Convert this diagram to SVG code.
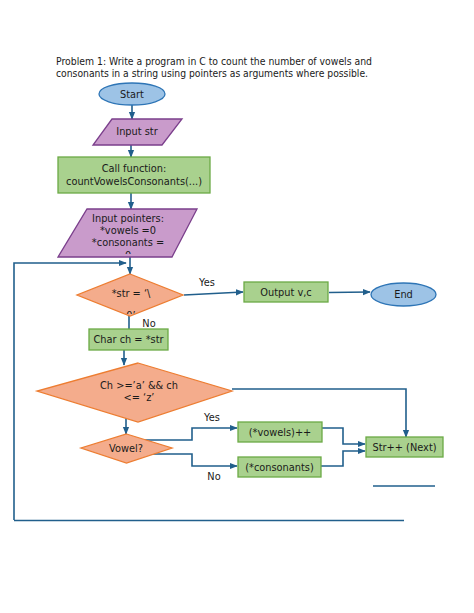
<svg xmlns="http://www.w3.org/2000/svg" width="474" height="613" viewBox="0 0 474 613">
<style>
text{font-family:"DejaVu Sans","Liberation Sans",sans-serif;font-size:9.8px;fill:#1a1a1a;text-anchor:middle}
.title{font-size:10.5px;text-anchor:start}
.term{fill:#9DC3E6;stroke:#2E75B6;stroke-width:1.3}
.io{fill:#C99BCB;stroke:#7B3F8C;stroke-width:1.3}
.proc{fill:#A9D18E;stroke:#6BAA45;stroke-width:1.3}
.dec{fill:#F4AC8C;stroke:#ED7D31;stroke-width:1.3}
.c{fill:none;stroke:#215F8C;stroke-width:1.6}
</style>
<defs>
<marker id="ah" viewBox="0 0 10 10" refX="9" refY="5" markerWidth="5" markerHeight="5" orient="auto">
<path d="M0,1 L10,5 L0,9 z" fill="#215F8C"/>
</marker>
<clipPath id="clipP"><rect x="50" y="205" width="160" height="49"/></clipPath>
<clipPath id="clipD"><rect x="70" y="270" width="120" height="44"/></clipPath>
</defs>
<rect width="474" height="613" fill="#fff"/>
<text class="title" x="56" y="65" textLength="316" lengthAdjust="spacingAndGlyphs">Problem 1: Write a program in C to count the number of vowels and</text>
<text class="title" x="56" y="77" textLength="312" lengthAdjust="spacingAndGlyphs">consonants in a string using pointers as arguments where possible.</text>

<g id="connectors">
<path class="c" d="M132,105 V119" marker-end="url(#ah)"/>
<path class="c" d="M131,145 V157" marker-end="url(#ah)"/>
<path class="c" d="M131,193 V209" marker-end="url(#ah)"/>
<path class="c" d="M130,257 V274" marker-end="url(#ah)"/>
<path class="c" d="M14,520 V263 H126" marker-end="url(#ah)"/>
<path class="c" d="M14,520.5 H404"/>
<path class="c" d="M184,295 L243,292" marker-end="url(#ah)"/>
<path class="c" d="M329,292.5 L370,292" marker-end="url(#ah)"/>
<path class="c" d="M129,316 V329"/>
<path class="c" d="M124,350 V365" marker-end="url(#ah)"/>
<path class="c" d="M232,389 H406 V437" marker-end="url(#ah)"/>
<path class="c" d="M126,418 V434" marker-end="url(#ah)"/>
<path class="c" d="M144,440 H192 V428 H237" marker-end="url(#ah)"/>
<path class="c" d="M148,454 H192 V466 H237" marker-end="url(#ah)"/>
<path class="c" d="M322,428 H343 V444 H365" marker-end="url(#ah)"/>
<path class="c" d="M321,466 H343 V451 H365" marker-end="url(#ah)"/>
<path class="c" d="M373,486 H435"/>
<text x="207" y="286">Yes</text>
<text x="149" y="327">No</text>
<text x="212" y="421">Yes</text>
<text x="214" y="480">No</text>
</g>

<g id="start">
<ellipse class="term" cx="132" cy="94" rx="33" ry="11"/>
<text x="132" y="97.5">Start</text>
</g>
<g id="input-str">
<polygon class="io" points="112,119 182,119 162,145 93,145"/>
<text x="137" y="135">Input str</text>
</g>
<g id="call-function">
<rect class="proc" x="58" y="157" width="152" height="36"/>
<text x="134" y="172">Call function:</text>
<text x="134" y="185">countVowelsConsonants(...)</text>
</g>
<g id="input-pointers">
<polygon class="io" points="87,209 197,209 172,257 58,257"/>
<g clip-path="url(#clipP)">
<text x="128" y="222">Input pointers:</text>
<text x="128" y="234">*vowels =0</text>
<text x="128" y="246">*consonants =</text>
<text x="128" y="259">0</text>
</g>
</g>
<g id="check-end">
<polygon class="dec" points="130,274 183,295 130,316 77,295"/>
<g clip-path="url(#clipD)">
<text x="131" y="297">*str = ‘\</text>
<text x="131" y="319">0’</text>
</g>
</g>
<g id="output">
<rect class="proc" x="244" y="282" width="84" height="20"/>
<text x="286" y="295.5">Output v,c</text>
</g>
<g id="end">
<ellipse class="term" cx="403.5" cy="294.5" rx="32.5" ry="11.5"/>
<text x="403.5" y="298">End</text>
</g>
<g id="char-ch">
<rect class="proc" x="89" y="329" width="79" height="21"/>
<text x="128.5" y="343">Char ch = *str</text>
</g>
<g id="check-letter">
<polygon class="dec" points="138,363 232,391 138,422 37,391"/>
<text x="139" y="389">Ch &gt;=’a’ &amp;&amp; ch</text>
<text x="139" y="401">&lt;= ‘z’</text>
</g>
<g id="vowel">
<polygon class="dec" points="126.5,434 172,448 126.5,463 81,448"/>
<text x="126" y="452">Vowel?</text>
</g>
<g id="vowels-inc">
<rect class="proc" x="238" y="422" width="84" height="20"/>
<text x="280" y="435.5">(*vowels)++</text>
</g>
<g id="consonants-inc">
<rect class="proc" x="238" y="457" width="83" height="20"/>
<text x="279.5" y="470.5">(*consonants)</text>
</g>
<g id="next">
<rect class="proc" x="366" y="437" width="77" height="20"/>
<text x="404.5" y="450.5">Str++ (Next)</text>
</g>
</svg>
